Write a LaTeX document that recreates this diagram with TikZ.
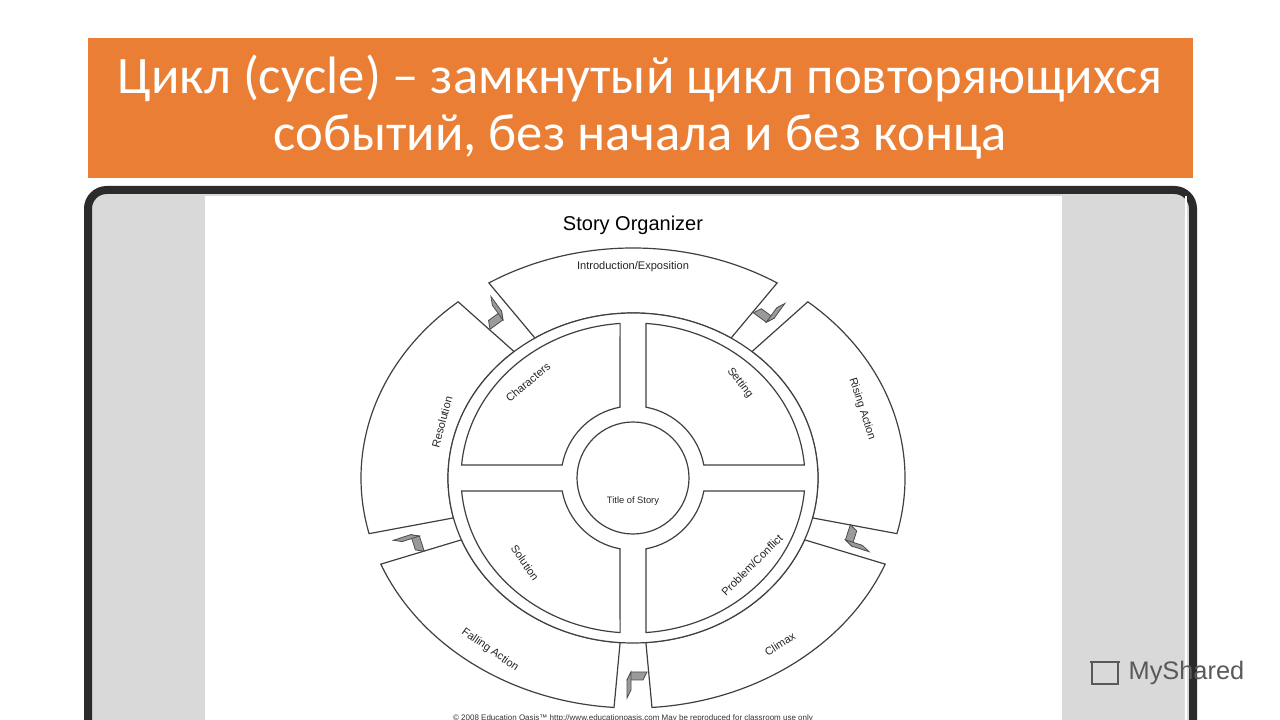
\documentclass[tikz,border=0pt]{standalone}
\usepackage{fontspec}
\setmainfont{Carlito}
\newfontfamily\dia{Liberation Sans}
\usetikzlibrary{calc}
\definecolor{ban}{HTML}{E97E34}
\definecolor{panel}{HTML}{D9D9D9}
\definecolor{frm}{HTML}{2B2B2B}
\definecolor{arr}{HTML}{9A9A9A}
\tikzset{
  ln/.style={draw=black!75,line width=0.9},
  lab/.style={font=\dia\fontsize{8.3}{10}\selectfont, text=black!85},
  arrw/.style={fill=arr,draw=black!70,line width=0.6}
}
\begin{document}
\begin{tikzpicture}[x=0.75pt,y=0.75pt]
\useasboundingbox (0,0) rectangle (1280,720);
\clip (0,0) rectangle (1280,720);
\fill[white] (0,0) rectangle (1280,720);
% banner
\fill[ban] (88,542) rectangle (1193,682);
\node[text=white,font=\fontsize{39.5}{43}\selectfont,align=center] (ttl) at (640,613)
 {Цикл (cycle) – замкнутый цикл повторяющихся\\событий, без начала и без конца};
% frame
\draw[frm,line width=6,fill=panel,rounded corners=14] (88,-30) rectangle (1193,530);
\fill[white] (205,-30) rectangle (1062,524);
\draw[white,line width=2] (1186,-30) -- (1186,524);
\node[font=\dia\fontsize{15}{18}\selectfont] (so) at (633,495) {Story Organizer};
\coordinate (C) at (633,242);
\begin{scope}[shift={(C)}]
 % outer segments
 \foreach \a/\b in {58/122,-14/50,-86/-22,-158/-94,130/194}{
  \draw[ln,fill=white] (\a:185 and 165) arc[start angle=\a,end angle=\b,x radius=185,y radius=165]
    -- (\b:272 and 230) arc[start angle=\b,end angle=\a,x radius=272,y radius=230] -- cycle;
 }
 \draw[ln,fill=white] (0,0) ellipse[x radius=185,y radius=165];
 % quadrants
 \foreach \sx/\sy in {1/1,-1/1,1/-1,-1/-1}{
  \begin{scope}[xscale=\sx,yscale=\sy]
   \draw[ln] (85.7:172 and 155) arc[start angle=85.7,end angle=4.8,x radius=172,y radius=155]
     -- (10.4:72) arc[start angle=10.4,end angle=79.6,radius=72] -- cycle;
  \end{scope}
 }
 \draw[ln] (0,0) circle[radius=56];
 % arrows at gaps
 \foreach \g/\r in {126/36,54/-36,-18/-108,-90/180,-162/108}{
  \begin{scope}[shift={(\g:228 and 198)},rotate=\r]
   \draw[arrw] (-14,-4) -- (2,-4) -- (6,4) -- (-10,4) -- cycle;
   \draw[arrw] (2,-4) -- (6,4) -- (6,22) -- (2,14) -- cycle;
  \end{scope}
 }
\end{scope}
% labels
\node[lab] (l1) at (633,453) {Introduction/Exposition};
\node[lab,rotate=-72] (l2) at (862,311) {Rising Action};
\node[lab,rotate=32] (l3) at (780,76) {Climax};
\node[lab,rotate=-35] (l4) at (490,70) {Falling Action};
\node[lab,rotate=75] (l5) at (442,298) {Resolution};
\node[lab,rotate=40] (l6) at (528,338) {Characters};
\node[lab,rotate=-52] (l7) at (740,337) {Setting};
\node[lab,rotate=-55] (l8) at (525,157) {Solution};
\node[lab,rotate=45] (l9) at (752,155) {Problem/Conflict};
\node[lab,font=\dia\fontsize{7}{8}\selectfont] (l10) at (633,219) {Title of Story};
\node[font=\dia\fontsize{6}{7}\selectfont,text=black!80] (cp) at (633,2) {© 2008 Education Oasis™ http://www.educationoasis.com May be reproduced for classroom use only};
% watermark
\node[text=black!65,font=\dia\fontsize{19}{22}\selectfont,anchor=west] (ms) at (1124,47) {MyShared};
\draw[black!65,line width=1.5] (1092,36) rectangle (1118,58);
\draw[black!65,line width=1.5] (1090,58) -- (1120,58);
\end{tikzpicture}
\end{document}
